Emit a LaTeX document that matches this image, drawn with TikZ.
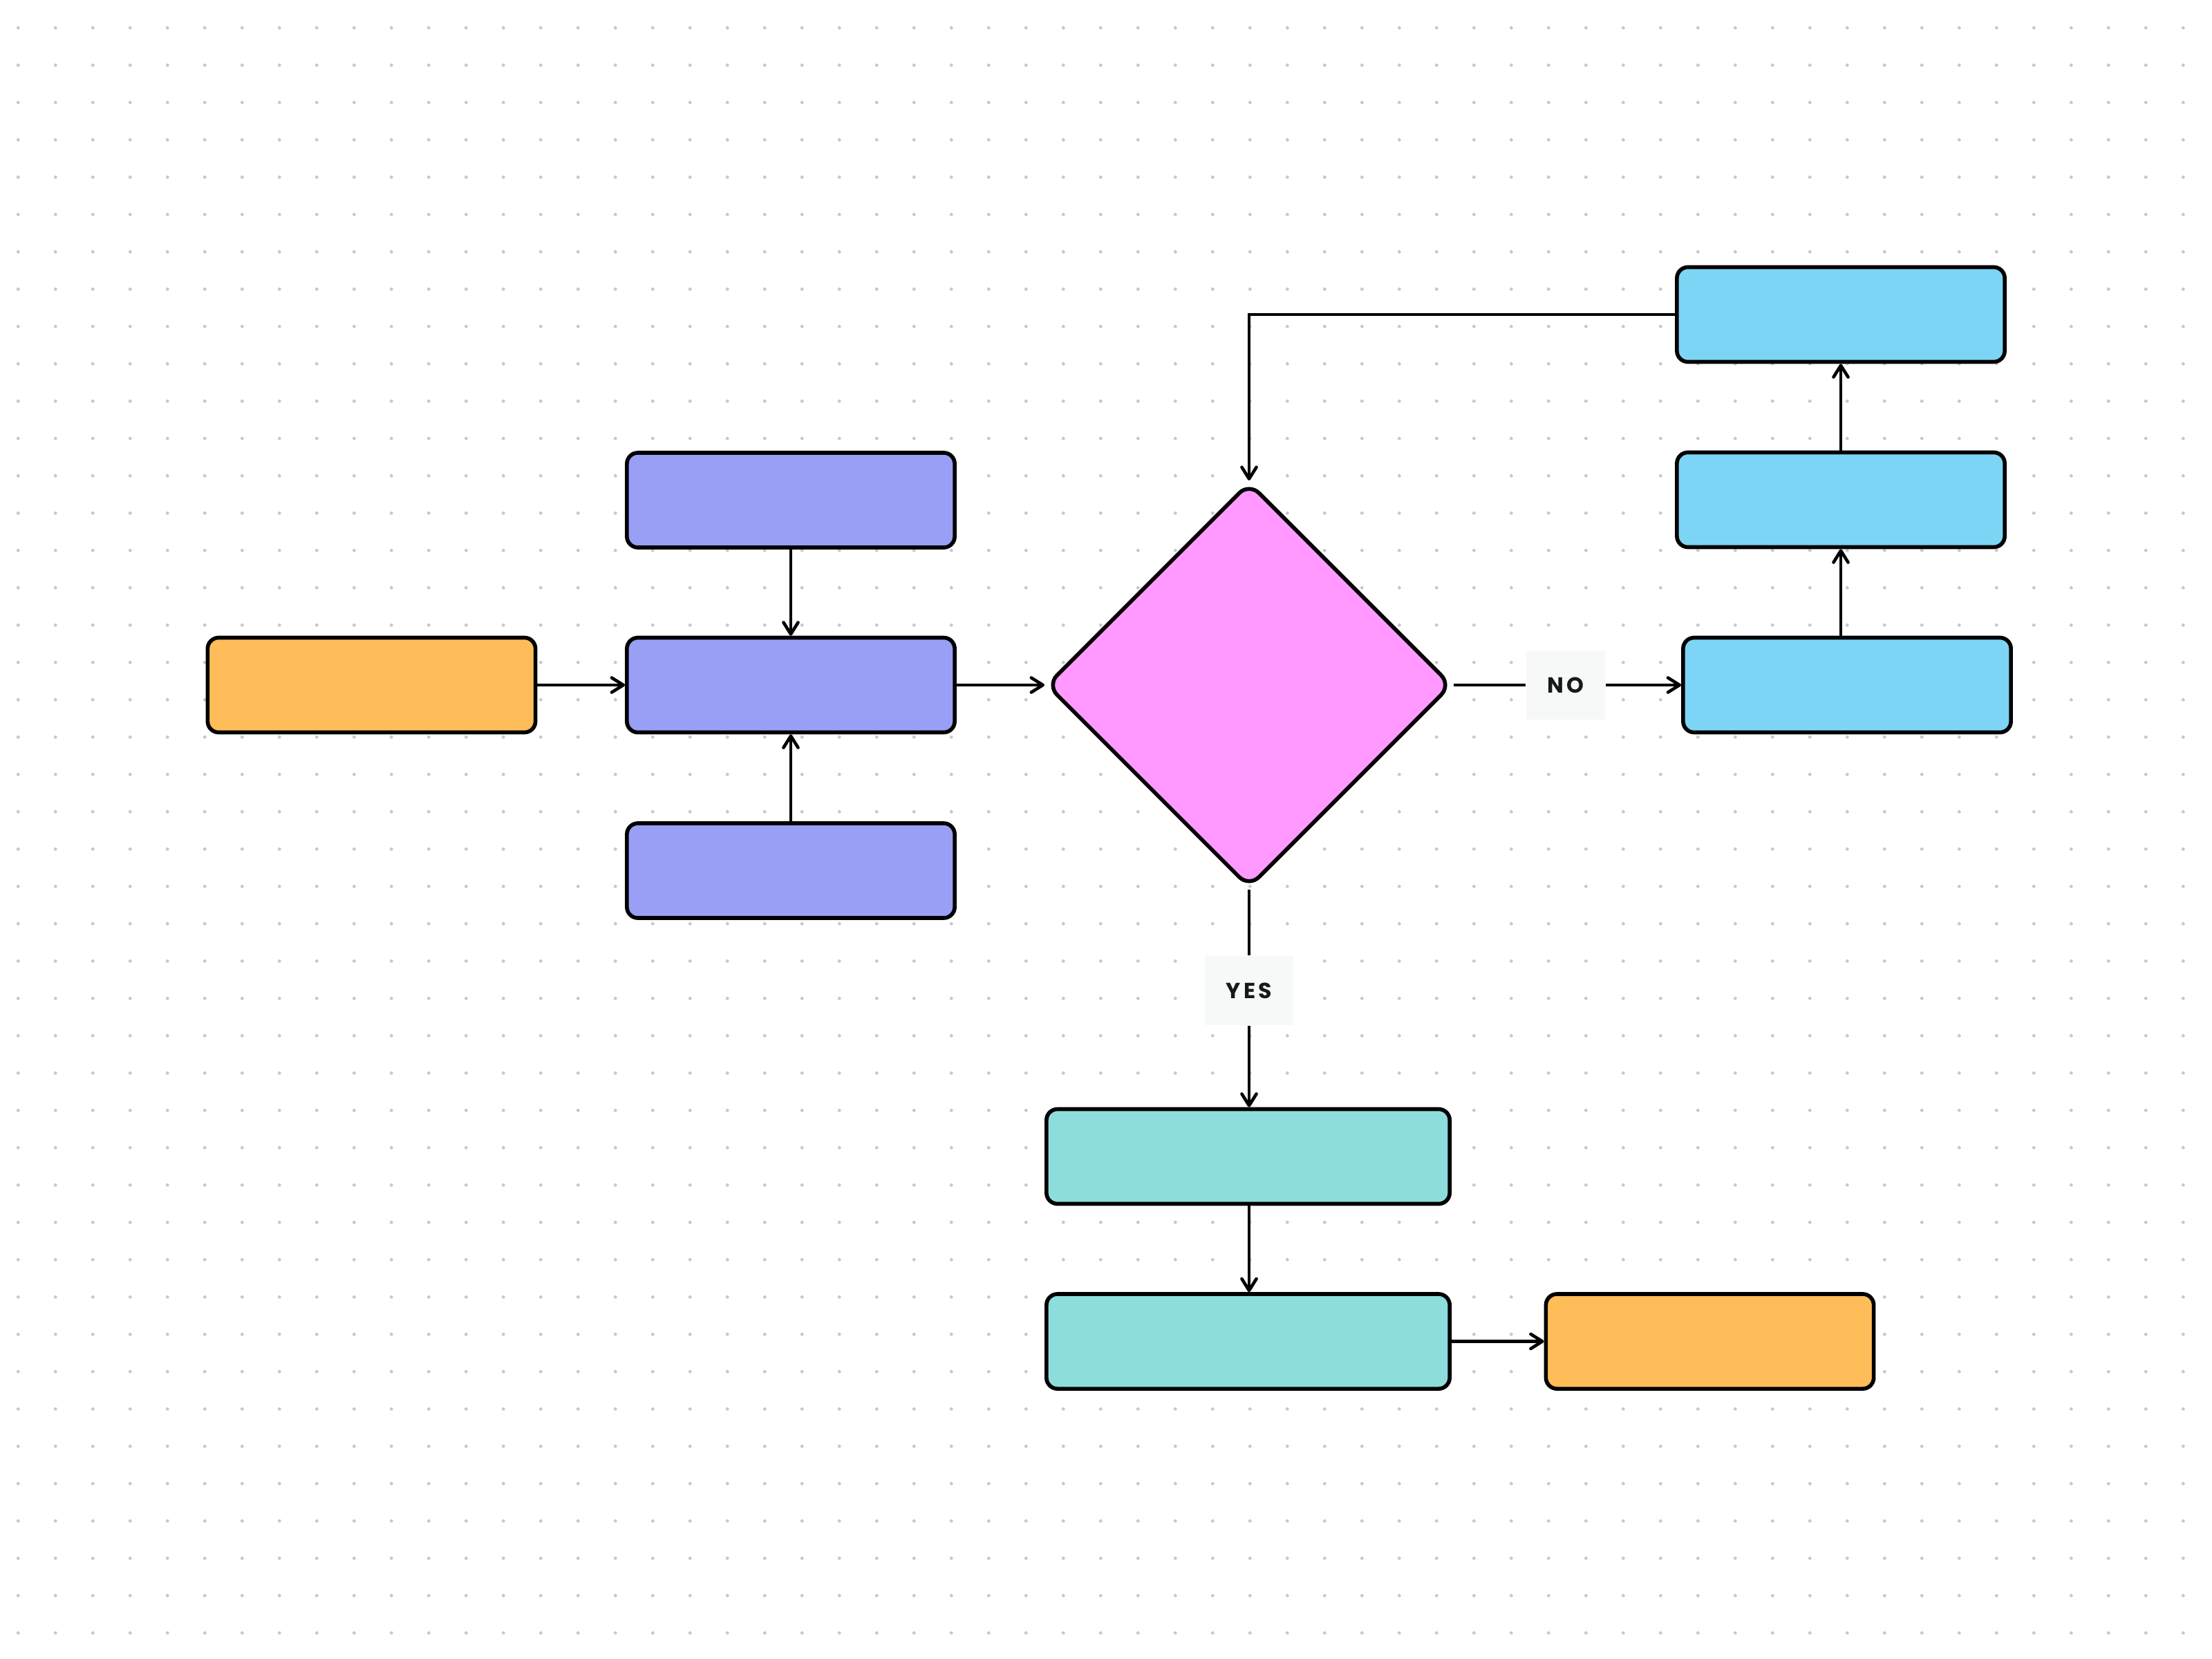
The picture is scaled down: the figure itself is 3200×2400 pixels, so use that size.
\documentclass[tikz,border=0pt]{standalone}
\usepackage{fontspec}
\usetikzlibrary{shapes.geometric,arrows.meta}
\newfontfamily\lblfont{Poppins}[LetterSpace=14]
\definecolor{cOrange}{HTML}{FFBD59}
\definecolor{cPurple}{HTML}{989FF5}
\definecolor{cPink}{HTML}{FF99FF}
\definecolor{cCyan}{HTML}{7DD5F5}
\definecolor{cTeal}{HTML}{8EDDDD}
\definecolor{cDot}{HTML}{C4C8CC}
\definecolor{cLbl}{HTML}{F7F9F9}
\tikzset{
  box/.style={draw=black, line width=1.6pt, rounded corners=0.16cm, minimum width=4.74cm, minimum height=1.37cm, inner sep=0pt},
  widebox/.style={box, minimum width=5.83cm},
  decision/.style={diamond, aspect=1, draw=black, line width=1.6pt, fill=cPink, rounded corners=0.2cm, minimum width=5.86cm, minimum height=5.86cm, inner sep=0pt},
  lbl/.style={fill=cLbl, inner sep=0pt, minimum height=1cm, font=\lblfont\bfseries\fontsize{9}{11}\selectfont, text=black!90},
  ln/.style={line width=1.3pt, draw=black},
  arr/.style={ln, -{Straight Barb[length=4.8pt,width=6pt,line width=1.3pt,round]}},
}
\begin{document}
\begin{tikzpicture}[x=0.01cm,y=-0.01cm]
\fill[white] (0,0) rectangle (3200,2400);
\useasboundingbox (0,0) rectangle (3200,2400);
\foreach \i in {0,...,58} {
  \foreach \j in {0,...,43} {
    \fill[cDot] (26.3+54*\i, 40.3+54*\j) circle[radius=0.024cm];
  }
}
% nodes
\node[box, fill=cOrange] (o1) at (537.5,991) {};
\node[box, fill=cPurple] (p1) at (1144,723.5) {};
\node[box, fill=cPurple] (p2) at (1144,991) {};
\node[box, fill=cPurple] (p3) at (1144,1259.5) {};
\node[decision] (d) at (1807,991) {};
\node[box, fill=cCyan] (c1) at (2663,455) {};
\node[box, fill=cCyan] (c2) at (2663,723) {};
\node[box, fill=cCyan] (c3) at (2672,991) {};
\node[widebox, fill=cTeal] (t1) at (1805.5,1673) {};
\node[widebox, fill=cTeal] (t2) at (1805.5,1940.5) {};
\node[box, fill=cOrange] (o2) at (2473.5,1940.5) {};
\node[lbl, minimum width=1.14cm] (no) at (2265,991) {NO};
\node[lbl, minimum width=1.28cm] (yes) at (1807,1433) {YES};
% connectors
\draw[arr] (o1.east) -- (p2.west);
\draw[arr] (p1.south) -- (p2.north);
\draw[arr] (p3.north) -- (p2.south);
\draw[arr] (p2.east) -- (d.west);
\draw[ln] (d.east) -- (no.west);
\draw[arr] (no.east) -- (c3.west);
\draw[arr] (c2.south |- c3.north) -- (c2.south);
\draw[arr] (c2.north) -- (c1.south);
\draw[arr] (c1.west) -| (d.north);
\draw[ln] (d.south) -- (yes.north);
\draw[arr] (yes.south) -- (yes.south |- t1.north);
\draw[arr] (t1.south -| yes.south) -- (yes.south |- t2.north);
\draw[arr] (t2.east) -- (o2.west);
\end{tikzpicture}
\end{document}
